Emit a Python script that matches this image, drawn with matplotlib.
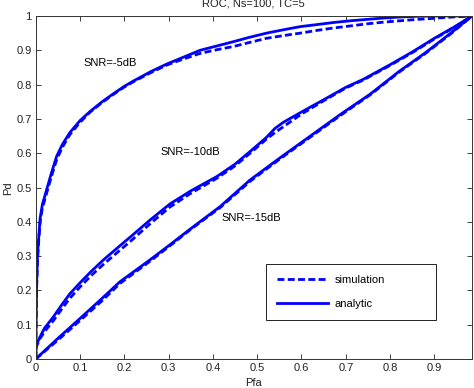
import matplotlib
matplotlib.use("Agg")
import matplotlib.pyplot as plt

plt.rcParams['font.family'] = ['Liberation Sans', 'DejaVu Sans']

# ROC curves (Pfa, Pd)
pfa_5 = [0, 0.002, 0.004, 0.006, 0.01, 0.015, 0.025, 0.035, 0.047, 0.06, 0.077, 0.1,
         0.123, 0.15, 0.175, 0.2, 0.22, 0.26, 0.296, 0.33, 0.371, 0.41, 0.446, 0.48,
         0.521, 0.56, 0.597, 0.635, 0.672, 0.71, 0.747, 0.785, 0.822, 0.86, 0.897,
         0.94, 0.985]
pd_5_analytic = [0, 0.22, 0.3, 0.34, 0.41, 0.45, 0.495, 0.54, 0.59, 0.625, 0.66, 0.695,
                 0.722, 0.75, 0.773, 0.795, 0.81, 0.838, 0.86, 0.878, 0.9, 0.913, 0.925,
                 0.937, 0.95, 0.96, 0.969, 0.975, 0.981, 0.986, 0.99, 0.994, 0.997,
                 0.999, 1.0, 1.0, 1.0]
pd_5_sim = [0, 0.2, 0.28, 0.33, 0.4, 0.44, 0.485, 0.53, 0.58, 0.617, 0.654, 0.69,
            0.72, 0.748, 0.771, 0.793, 0.808, 0.835, 0.857, 0.873, 0.891, 0.902, 0.911,
            0.922, 0.935, 0.943, 0.95, 0.958, 0.965, 0.971, 0.977, 0.982, 0.986, 0.99,
            0.993, 0.997, 1.0]

pfa_10 = [0, 0.001, 0.01, 0.02, 0.04, 0.06, 0.077, 0.1, 0.125, 0.153, 0.19, 0.213,
          0.258, 0.303, 0.35, 0.409, 0.45, 0.484, 0.52, 0.54, 0.559, 0.6, 0.649, 0.7,
          0.739, 0.8, 0.85, 0.9, 0.945, 0.985]
pd_10_analytic = [0, 0.04, 0.065, 0.09, 0.123, 0.16, 0.19, 0.222, 0.255, 0.289, 0.33,
                  0.355, 0.405, 0.452, 0.49, 0.532, 0.568, 0.605, 0.645, 0.672, 0.69,
                  0.72, 0.755, 0.792, 0.815, 0.858, 0.895, 0.935, 0.968, 1.0]
pd_10_sim = [0, 0.035, 0.06, 0.08, 0.112, 0.148, 0.177, 0.21, 0.243, 0.276, 0.317,
             0.342, 0.394, 0.443, 0.483, 0.527, 0.563, 0.6, 0.64, 0.66, 0.677, 0.714,
             0.752, 0.79, 0.813, 0.856, 0.893, 0.933, 0.967, 1.0]

pfa_15 = [0, 0.05, 0.1, 0.15, 0.19, 0.258, 0.3, 0.35, 0.416, 0.484, 0.55, 0.62, 0.69,
          0.755, 0.82, 0.88, 0.935, 0.985]
pd_15_analytic = [0, 0.06, 0.118, 0.177, 0.225, 0.289, 0.33, 0.38, 0.444, 0.522, 0.585,
                  0.65, 0.715, 0.772, 0.838, 0.893, 0.948, 1.0]
pd_15_sim = [0, 0.055, 0.112, 0.17, 0.22, 0.285, 0.327, 0.378, 0.441, 0.518, 0.582,
             0.647, 0.712, 0.77, 0.836, 0.891, 0.946, 1.0]

xticks = [0, 0.1, 0.2, 0.3, 0.4, 0.5, 0.6, 0.7, 0.8, 0.9]
yticks = [0, 0.1, 0.2, 0.3, 0.4, 0.5, 0.6, 0.7, 0.8, 0.9, 1.0]
ytick_labels = ['0', '0.1', '0.2', '0.3', '0.4', '0.5', '0.6', '0.7', '0.8', '0.9', '1']
xtick_labels = ['0', '0.1', '0.2', '0.3', '0.4', '0.5', '0.6', '0.7', '0.8', '0.9']

W, H = 474, 388
fig = plt.figure(figsize=(W / 100, H / 100), dpi=100)
ax = fig.add_axes([35.7 / W, (H - 359) / H, 436.3 / W, 343 / H])

blue = '#0000ff'
lw = 2.0
dash = (2.5, 1.2)

sim_line = None
ana_line = None
for x, ya, ys in [(pfa_5, pd_5_analytic, pd_5_sim),
                  (pfa_10, pd_10_analytic, pd_10_sim),
                  (pfa_15, pd_15_analytic, pd_15_sim)]:
    sim_line, = ax.plot(x, ys, color=blue, lw=lw, dashes=dash)
    ana_line, = ax.plot(x, ya, color=blue, lw=lw)

ax.set_xlim(0, 0.985)
ax.set_ylim(0, 1)
ax.set_xticks(xticks)
ax.set_xticklabels(xtick_labels)
ax.set_yticks(yticks)
ax.set_yticklabels(ytick_labels)
ax.tick_params(direction='in', length=3.5, width=0.6, labelsize=8, pad=3,
               top=True, right=True, colors='#222222')
for s in ax.spines.values():
    s.set_linewidth(0.7)
    s.set_color('#333333')

ax.text(0.107, 0.863, 'SNR=-5dB', fontsize=8, va='center', ha='left')
ax.text(0.281, 0.603, 'SNR=-10dB', fontsize=8, va='center', ha='left')
ax.text(0.42, 0.411, 'SNR=-15dB', fontsize=8, va='center', ha='left')

leg = ax.legend([sim_line, ana_line], ['simulation', 'analytic'],
                loc='lower left', bbox_to_anchor=(0.528, 0.114, 0.389, 0.16),
                mode='expand', borderaxespad=0, fontsize=8, handlelength=4.6,
                handletextpad=0.6, labelspacing=1.3, borderpad=0.95,
                fancybox=False, framealpha=1)
leg.get_frame().set_edgecolor('#222222')
leg.get_frame().set_linewidth(0.7)

fig.text(253.5 / W, (H - 7) / H, 'ROC, Ns=100, TC=5', fontsize=8, ha='center',
         va='baseline', color='#222222')
fig.text(253.5 / W, (H - 378) / H, 'Pfa', fontsize=8, ha='center', va='top',
         color='#222222')
fig.text(8 / W, (H - 188) / H, 'Pd', fontsize=8, ha='center', va='center',
         rotation=90, color='#222222')

fig.savefig('out.png', dpi=100)
